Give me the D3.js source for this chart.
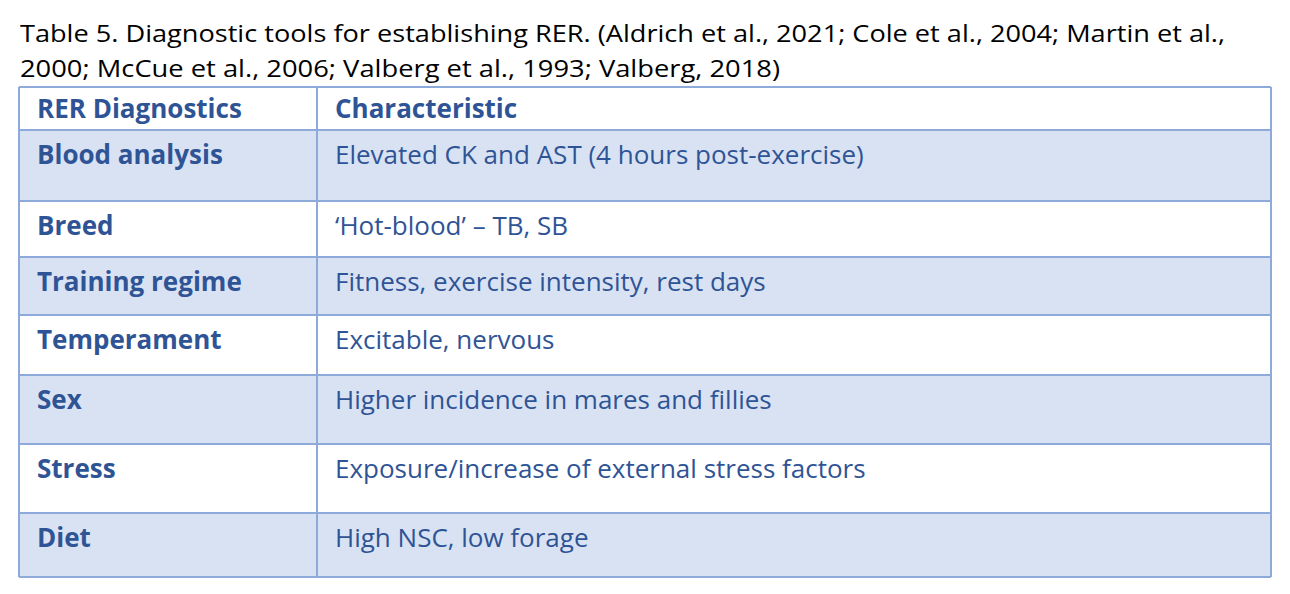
<!DOCTYPE html>
<html><head><meta charset="utf-8">
<script src="https://cdn.jsdelivr.net/npm/d3@7"></script>
<style>body{margin:0;background:#fff}</style>
</head><body>
<svg id="c" width="1290" height="594"></svg>
<script>
const titleLines = [
  "Table 5. Diagnostic tools for establishing RER. (Aldrich et al., 2021; Cole et al., 2004; Martin et al.,",
  "2000; McCue et al., 2006; Valberg et al., 1993; Valberg, 2018)"
];
const headers = ["RER Diagnostics", "Characteristic"];
const diagnostics = ["Blood analysis", "Breed", "Training regime", "Temperament", "Sex", "Stress", "Diet"];
const characteristics = [
  "Elevated CK and AST (4 hours post-exercise)",
  "‘Hot-blood’ – TB, SB",
  "Fitness, exercise intensity, rest days",
  "Excitable, nervous",
  "Higher incidence in mares and fillies",
  "Exposure/increase of external stress factors",
  "High NSC, low forage"
];

const rowEdges = [87, 130, 201, 257, 315, 375, 444, 513, 577];
const colEdges = [19, 317, 1271];
const svg = d3.select("#c");
const font = "'Open Sans', sans-serif";
const blue = "#2f5496";

svg.selectAll("text.title").data(titleLines).join("text")
  .attr("x", 20).attr("y", (d, i) => 42 + i * 35)
  .attr("font-family", font).attr("font-size", 24).attr("fill", "#000")
  .attr("textLength", (d, i) => i === 0 ? 1205 : 760).attr("lengthAdjust", "spacingAndGlyphs")
  .text(d => d);

const rows = [headers].concat(diagnostics.map((d, i) => [d, characteristics[i]]));

const g = svg.selectAll("g.row").data(rows).join("g");
g.append("rect")
  .attr("x", colEdges[0]).attr("width", colEdges[2] - colEdges[0])
  .attr("y", (d, i) => rowEdges[i]).attr("height", (d, i) => rowEdges[i + 1] - rowEdges[i])
  .attr("fill", (d, i) => i % 2 === 1 ? "#d9e2f3" : "#fff");

g.each(function(d, i) {
  d3.select(this).selectAll("text").data(d).join("text")
    .attr("x", (t, j) => colEdges[j] + 18)
    .attr("y", rowEdges[i] + (i === 0 ? 31 : 34))
    .attr("font-family", font).attr("font-size", 26)
    .attr("font-weight", (t, j) => (i === 0 || j === 0) ? "bold" : "normal")
    .attr("fill", blue).text(t => t);
});

const line = "#8eaadb";
svg.selectAll("line.h").data(rowEdges).join("line")
  .attr("x1", colEdges[0]).attr("x2", colEdges[2]).attr("y1", d => d).attr("y2", d => d)
  .attr("stroke", line).attr("stroke-width", 2);
svg.selectAll("line.v").data(colEdges).join("line")
  .attr("y1", rowEdges[0]).attr("y2", rowEdges[rowEdges.length - 1]).attr("x1", d => d).attr("x2", d => d)
  .attr("stroke", line).attr("stroke-width", 2);
</script>
</body></html>
